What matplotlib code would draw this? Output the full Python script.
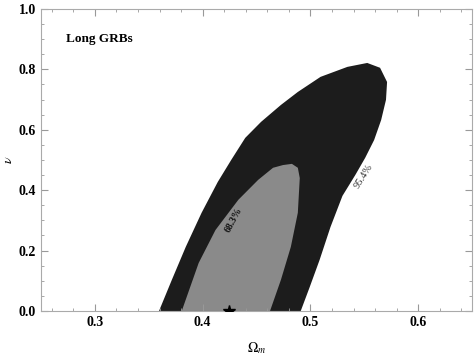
import numpy as np
import matplotlib.pyplot as plt
from matplotlib.ticker import MultipleLocator

plt.rcParams['font.family'] = ['Liberation Serif', 'DejaVu Serif']
plt.rcParams['mathtext.fontset'] = 'stix'

# 95.4% confidence region boundary (Omega_m, nu)
outer_x = [0.3595, 0.3714, 0.3843, 0.3990, 0.4140, 0.4265, 0.4395, 0.4542, 0.4726,
           0.4883, 0.5094, 0.5343, 0.5527, 0.5646, 0.5711, 0.5701, 0.5656, 0.5591,
           0.5508, 0.5416, 0.5297, 0.5186, 0.5085, 0.4993, 0.4910]
outer_y = [0.0, 0.103, 0.212, 0.325, 0.427, 0.500, 0.573, 0.626, 0.682,
           0.725, 0.775, 0.808, 0.821, 0.805, 0.758, 0.699, 0.632, 0.566,
           0.507, 0.450, 0.381, 0.278, 0.169, 0.079, 0.0]

# 68.3% confidence region boundary
inner_x = [0.3806, 0.3963, 0.4119, 0.4331, 0.4515, 0.4653, 0.4745, 0.4828, 0.4883,
           0.4901, 0.4883, 0.4818, 0.4726, 0.4625]
inner_y = [0.0, 0.159, 0.268, 0.368, 0.434, 0.474, 0.483, 0.487, 0.474,
           0.440, 0.325, 0.212, 0.103, 0.0]

best_fit = (0.424, 0.0)

fig = plt.figure(figsize=(4.74, 3.55), dpi=100)
ax = fig.add_axes([0.0865, 0.124, 0.9095, 0.851])

ax.fill(outer_x, outer_y, color='#1c1c1c', lw=0)
ax.fill(inner_x, inner_y, color='#8a8a8a', lw=0)
ax.plot(*best_fit, marker='*', color='black', ms=9, zorder=5)

ax.text(0.4285, 0.30, '68.3%', rotation=62, fontsize=7, fontweight='bold',
        ha='center', va='center', color='#111111')
ax.text(0.5495, 0.447, '95.4%', rotation=58, fontsize=7.5,
        ha='center', va='center', color='#333333')
ax.text(0.2735, 0.90, 'Long GRBs', fontsize=9.5, fontweight='bold', ha='left', va='center')

ax.set_xlim(0.25, 0.65)
ax.set_ylim(0.0, 1.0)
ax.xaxis.set_major_locator(MultipleLocator(0.1))
ax.xaxis.set_minor_locator(MultipleLocator(0.02))
ax.yaxis.set_major_locator(MultipleLocator(0.2))
ax.yaxis.set_minor_locator(MultipleLocator(0.05))
ax.tick_params(which='both', direction='in', top=True, right=True, color='#999999',
               labeltop=False, labelright=False)
ax.tick_params(which='major', length=5, width=0.8, labelsize=10)
ax.tick_params(which='minor', length=2.5, width=0.6)
for lab in ax.get_xticklabels() + ax.get_yticklabels():
    lab.set_fontweight('bold')
for sp in ax.spines.values():
    sp.set_color('#aaaaaa')
    sp.set_linewidth(0.8)

ax.set_xlabel(r'$\Omega_m$', fontsize=10, labelpad=8)
ax.set_ylabel(r'$\nu$', fontsize=10, labelpad=3)

fig.savefig('out.png', dpi=100)
